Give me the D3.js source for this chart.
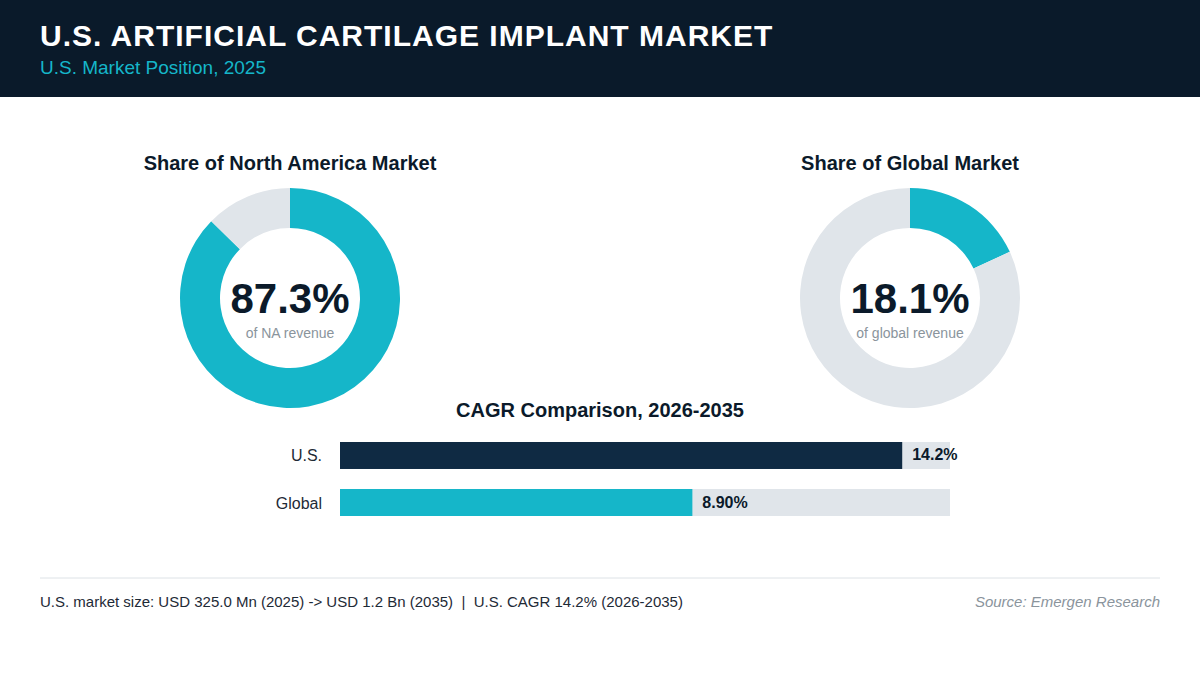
<!doctype html>
<html>
  <head>
    <meta charset="utf-8">
    <title>U.S. Artificial Cartilage Implant Market</title>
    <style>
      body { margin: 0; background: #fff; }
      svg { display: block; font-family: "Liberation Sans", Arial, sans-serif; }
    </style>
    <script src="https://cdn.jsdelivr.net/npm/d3@7"></script>
  </head>
  <body>
    <svg id="chart" width="1200" height="675"></svg>
    <script>

    // data
    var donutTitles = ["Share of North America Market", "Share of Global Market"];
    var donutShares = [87.3, 18.1];
    var donutLabels = ["87.3%", "18.1%"];
    var donutSubs = ["of NA revenue", "of global revenue"];

    var cagrNames = ["U.S.", "Global"];
    var cagrValues = [14.2, 8.9];
    var cagrLabels = ["14.2%", "8.90%"];

    var teal = "#15b6c9", navy = "#0f2a43", track = "#e0e5ea", ink = "#0b1a2a";

    var svg = d3.select("#chart");

    // header band
    svg.append("rect").attr("x", 0).attr("y", 0).attr("width", 1200).attr("height", 97).attr("fill", "#0a1a2a");
    svg.append("text").attr("x", 40).attr("y", 46)
      .attr("fill", "#fff").attr("font-size", 30).attr("font-weight", "bold").attr("letter-spacing", 1)
      .text("U.S. ARTIFICIAL CARTILAGE IMPLANT MARKET");
    svg.append("text").attr("x", 40).attr("y", 74)
      .attr("fill", teal).attr("font-size", 19)
      .text("U.S. Market Position, 2025");

    // donuts
    var centers = [290, 910];
    var arc = d3.arc().innerRadius(70).outerRadius(110);
    var pie = d3.pie().sort(null).value(function(d){ return d; });

    donutShares.forEach(function(share, i) {
      var g = svg.append("g").attr("transform", "translate(" + centers[i] + ",298)");
      svg.append("text").attr("x", centers[i]).attr("y", 170)
        .attr("text-anchor", "middle").attr("fill", ink)
        .attr("font-size", 20).attr("font-weight", "bold")
        .text(donutTitles[i]);
      g.selectAll("path")
        .data(pie([share, 100 - share]))
        .enter().append("path")
        .attr("d", arc)
        .attr("fill", function(d, j){ return j === 0 ? teal : track; });
      g.append("text").attr("y", 15).attr("text-anchor", "middle")
        .attr("fill", ink).attr("font-size", 42).attr("font-weight", "bold")
        .text(donutLabels[i]);
      g.append("text").attr("y", 40).attr("text-anchor", "middle")
        .attr("fill", "#8a949c").attr("font-size", 14)
        .text(donutSubs[i]);
    });

    // CAGR bars
    svg.append("text").attr("x", 600).attr("y", 417)
      .attr("text-anchor", "middle").attr("fill", ink)
      .attr("font-size", 20).attr("font-weight", "bold")
      .text("CAGR Comparison, 2026-2035");

    var x = d3.scaleLinear().domain([0, d3.max(cagrValues) * 1.085]).range([340, 950]);
    var y = d3.scaleBand().domain(cagrNames).range([442, 516]).paddingInner(0.426).paddingOuter(0);

    var rows = svg.selectAll("g.row").data(cagrNames).enter().append("g").attr("class", "row");
    rows.append("rect")
      .attr("x", x(0)).attr("y", function(d){ return y(d); })
      .attr("width", x.range()[1] - x(0)).attr("height", y.bandwidth())
      .attr("fill", track);
    rows.append("rect")
      .attr("x", x(0)).attr("y", function(d){ return y(d); })
      .attr("width", function(d, i){ return x(cagrValues[i]) - x(0); })
      .attr("height", y.bandwidth())
      .attr("fill", function(d, i){ return i === 0 ? navy : teal; });
    rows.append("text")
      .attr("x", 322).attr("y", function(d){ return y(d) + y.bandwidth() / 2 + 6; })
      .attr("text-anchor", "end").attr("fill", "#1e2a36").attr("font-size", 16)
      .text(function(d){ return d; });
    rows.append("text")
      .attr("x", function(d, i){ return x(cagrValues[i]) + 10; })
      .attr("y", function(d){ return y(d) + y.bandwidth() / 2 + 5; })
      .attr("fill", ink).attr("font-size", 16).attr("font-weight", "bold")
      .text(function(d, i){ return cagrLabels[i]; });

    // footer
    svg.append("line").attr("x1", 40).attr("x2", 1160).attr("y1", 578).attr("y2", 578)
      .attr("stroke", "#dde2e6").attr("stroke-width", 1);
    svg.append("text").attr("x", 40).attr("y", 607)
      .attr("fill", "#1e2a36").attr("font-size", 15)
      .text("U.S. market size: USD 325.0 Mn (2025) -> USD 1.2 Bn (2035)  |  U.S. CAGR 14.2% (2026-2035)")
      .attr("xml:space", "preserve").style("white-space", "pre");
    svg.append("text").attr("x", 1160).attr("y", 607)
      .attr("text-anchor", "end").attr("fill", "#8a949c").attr("font-size", 15).attr("font-style", "italic")
      .text("Source: Emergen Research");

    </script>
  </body>
</html>
